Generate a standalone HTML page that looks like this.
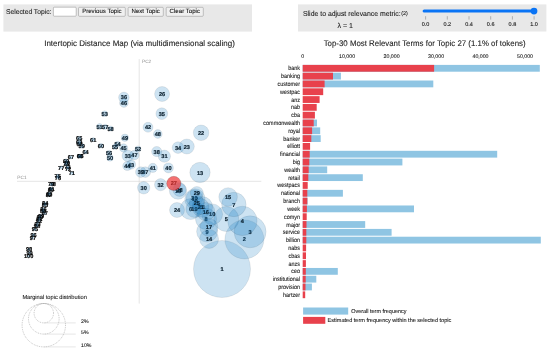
<!DOCTYPE html>
<html><head><meta charset="utf-8"><title>LDAvis</title>
<style>html,body{margin:0;padding:0;background:#fff;overflow:hidden}svg{display:block}text{font-family:"Liberation Sans", sans-serif;text-rendering:geometricPrecision}text[fill="#222"],text[fill="#111"]{stroke:#222;stroke-width:.1px}</style></head><body>
<svg width="550" height="352" viewBox="0 0 550 352">
<rect width="550" height="352" fill="#fff"/>
<rect x="3.4" y="4.4" width="248.6" height="27.2" fill="#e8e8e8"/>
<rect x="298" y="4.4" width="248.4" height="27.1" fill="#e8e8e8"/>
<text x="6" y="13.9" font-size="7" fill="#222" textLength="45.4" lengthAdjust="spacingAndGlyphs">Selected Topic:</text>
<rect x="53.4" y="7.2" width="22.8" height="9" fill="#fff" stroke="#8a8a8a" stroke-width="0.5" rx="0.8"/>
<rect x="78.5" y="7.3" width="46.8" height="9" rx="1" fill="#f0f0f0" stroke="#8c8c8c" stroke-width="0.5"/>
<text x="101.9" y="13.4" font-size="6.1" fill="#111" text-anchor="middle">Previous Topic</text>
<rect x="128.1" y="7.3" width="35.2" height="9" rx="1" fill="#f0f0f0" stroke="#8c8c8c" stroke-width="0.5"/>
<text x="145.7" y="13.4" font-size="6.1" fill="#111" text-anchor="middle">Next Topic</text>
<rect x="166.2" y="7.3" width="37.1" height="9" rx="1" fill="#f0f0f0" stroke="#8c8c8c" stroke-width="0.5"/>
<text x="184.8" y="13.4" font-size="6.1" fill="#111" text-anchor="middle">Clear Topic</text>
<text x="303" y="16.4" font-size="7.1" fill="#222" textLength="97.6" lengthAdjust="spacingAndGlyphs">Slide to adjust relevance metric:</text>
<text x="401.2" y="14.8" font-size="5.3" fill="#222">(2)</text>
<text x="337.4" y="27.9" font-size="7.1" fill="#222">λ = 1</text>
<rect x="422.6" y="9.5" width="113" height="3.1" rx="1.55" fill="#0a74f5"/>
<circle cx="534" cy="11.1" r="3.4" fill="#0a74f5"/>
<line x1="425.6" y1="16.2" x2="425.6" y2="19.6" stroke="#777" stroke-width="0.5"/>
<text x="425.6" y="25.7" font-size="5.5" fill="#111" text-anchor="middle">0.0</text>
<line x1="447.3" y1="16.2" x2="447.3" y2="19.6" stroke="#777" stroke-width="0.5"/>
<text x="447.3" y="25.7" font-size="5.5" fill="#111" text-anchor="middle">0.2</text>
<line x1="469.0" y1="16.2" x2="469.0" y2="19.6" stroke="#777" stroke-width="0.5"/>
<text x="469.0" y="25.7" font-size="5.5" fill="#111" text-anchor="middle">0.4</text>
<line x1="490.7" y1="16.2" x2="490.7" y2="19.6" stroke="#777" stroke-width="0.5"/>
<text x="490.7" y="25.7" font-size="5.5" fill="#111" text-anchor="middle">0.6</text>
<line x1="512.4" y1="16.2" x2="512.4" y2="19.6" stroke="#777" stroke-width="0.5"/>
<text x="512.4" y="25.7" font-size="5.5" fill="#111" text-anchor="middle">0.8</text>
<line x1="534.1" y1="16.2" x2="534.1" y2="19.6" stroke="#777" stroke-width="0.5"/>
<text x="534.1" y="25.7" font-size="5.5" fill="#111" text-anchor="middle">1.0</text>
<text x="44.2" y="45.6" font-size="8.1" fill="#222" textLength="190.7" lengthAdjust="spacingAndGlyphs">Intertopic Distance Map (via multidimensional scaling)</text>
<text x="323.7" y="45.6" font-size="8.1" fill="#222" textLength="201.9" lengthAdjust="spacingAndGlyphs">Top-30 Most Relevant Terms for Topic 27 (1.1% of tokens)</text>
<line x1="17" y1="181.3" x2="261.3" y2="181.3" stroke="#d4d4d4" stroke-width="0.6"/>
<line x1="139.2" y1="59.1" x2="139.2" y2="303.6" stroke="#d4d4d4" stroke-width="0.6"/>
<text x="17.3" y="179.1" font-size="4.75" fill="#8e8e8e">PC1</text>
<text x="142" y="62.7" font-size="4.75" fill="#8e8e8e">PC2</text>
<g font-size="5.6" font-weight="bold" text-anchor="middle" stroke-width="0.45">
<text x="222.0" y="271.0" fill="#000" stroke="#000" stroke-width="0.2" stroke-opacity="0.9">1</text>
<circle cx="222.0" cy="269.0" r="28.5" fill="#1b7fc4" fill-opacity="0.22" stroke="#000" stroke-opacity="0.16"/>
<text x="244.4" y="241.4" fill="#000" stroke="#000" stroke-width="0.2" stroke-opacity="0.9">2</text>
<circle cx="244.4" cy="239.4" r="19.5" fill="#1b7fc4" fill-opacity="0.22" stroke="#000" stroke-opacity="0.16"/>
<text x="250.1" y="233.8" fill="#000" stroke="#000" stroke-width="0.2" stroke-opacity="0.9">3</text>
<circle cx="250.1" cy="231.8" r="16.0" fill="#1b7fc4" fill-opacity="0.22" stroke="#000" stroke-opacity="0.16"/>
<text x="242.4" y="222.9" fill="#000" stroke="#000" stroke-width="0.2" stroke-opacity="0.9">4</text>
<circle cx="242.4" cy="220.9" r="14.7" fill="#1b7fc4" fill-opacity="0.22" stroke="#000" stroke-opacity="0.16"/>
<text x="226.3" y="221.0" fill="#000" stroke="#000" stroke-width="0.2" stroke-opacity="0.9">5</text>
<circle cx="226.3" cy="219.0" r="12.5" fill="#1b7fc4" fill-opacity="0.22" stroke="#000" stroke-opacity="0.16"/>
<text x="190.5" y="211.1" fill="#000" stroke="#000" stroke-width="0.2" stroke-opacity="0.9">6</text>
<circle cx="190.5" cy="209.1" r="10.5" fill="#1b7fc4" fill-opacity="0.22" stroke="#000" stroke-opacity="0.16"/>
<text x="233.9" y="206.5" fill="#000" stroke="#000" stroke-width="0.2" stroke-opacity="0.9">7</text>
<circle cx="233.9" cy="204.5" r="12.2" fill="#1b7fc4" fill-opacity="0.22" stroke="#000" stroke-opacity="0.16"/>
<text x="206.1" y="220.9" fill="#000" stroke="#000" stroke-width="0.2" stroke-opacity="0.9">8</text>
<circle cx="206.1" cy="218.9" r="10.6" fill="#1b7fc4" fill-opacity="0.22" stroke="#000" stroke-opacity="0.16"/>
<text x="207.1" y="233.6" fill="#000" stroke="#000" stroke-width="0.2" stroke-opacity="0.9">9</text>
<circle cx="207.1" cy="231.6" r="10.5" fill="#1b7fc4" fill-opacity="0.22" stroke="#000" stroke-opacity="0.16"/>
<text x="212.2" y="216.3" fill="#000" stroke="#000" stroke-width="0.2" stroke-opacity="0.9">10</text>
<circle cx="212.2" cy="214.3" r="10.4" fill="#1b7fc4" fill-opacity="0.22" stroke="#000" stroke-opacity="0.16"/>
<text x="202.3" y="208.9" fill="#000" stroke="#000" stroke-width="0.2" stroke-opacity="0.9">11</text>
<circle cx="202.3" cy="206.9" r="10.3" fill="#1b7fc4" fill-opacity="0.22" stroke="#000" stroke-opacity="0.16"/>
<text x="194.9" y="200.9" fill="#000" stroke="#000" stroke-width="0.2" stroke-opacity="0.9">12</text>
<circle cx="194.9" cy="198.9" r="10.2" fill="#1b7fc4" fill-opacity="0.22" stroke="#000" stroke-opacity="0.16"/>
<text x="200.0" y="174.5" fill="#000" stroke="#000" stroke-width="0.2" stroke-opacity="0.9">13</text>
<circle cx="200.0" cy="172.5" r="10.2" fill="#1b7fc4" fill-opacity="0.22" stroke="#000" stroke-opacity="0.16"/>
<text x="209.1" y="240.9" fill="#000" stroke="#000" stroke-width="0.2" stroke-opacity="0.9">14</text>
<circle cx="209.1" cy="238.9" r="9.5" fill="#1b7fc4" fill-opacity="0.22" stroke="#000" stroke-opacity="0.16"/>
<text x="228.1" y="199.0" fill="#000" stroke="#000" stroke-width="0.2" stroke-opacity="0.9">15</text>
<circle cx="228.1" cy="197.0" r="9.3" fill="#1b7fc4" fill-opacity="0.22" stroke="#000" stroke-opacity="0.16"/>
<text x="205.8" y="213.6" fill="#000" stroke="#000" stroke-width="0.2" stroke-opacity="0.9">16</text>
<circle cx="205.8" cy="211.6" r="9.1" fill="#1b7fc4" fill-opacity="0.22" stroke="#000" stroke-opacity="0.16"/>
<text x="208.9" y="229.4" fill="#000" stroke="#000" stroke-width="0.2" stroke-opacity="0.9">17</text>
<circle cx="208.9" cy="227.4" r="9.0" fill="#1b7fc4" fill-opacity="0.22" stroke="#000" stroke-opacity="0.16"/>
<text x="178.0" y="192.6" fill="#000" stroke="#000" stroke-width="0.2" stroke-opacity="0.9">18</text>
<circle cx="178.0" cy="190.6" r="8.7" fill="#1b7fc4" fill-opacity="0.22" stroke="#000" stroke-opacity="0.16"/>
<text x="194.4" y="211.0" fill="#000" stroke="#000" stroke-width="0.2" stroke-opacity="0.9">19</text>
<circle cx="194.4" cy="209.0" r="8.5" fill="#1b7fc4" fill-opacity="0.22" stroke="#000" stroke-opacity="0.16"/>
<text x="194.4" y="200.2" fill="#000" stroke="#000" stroke-width="0.2" stroke-opacity="0.9">20</text>
<circle cx="194.4" cy="198.2" r="8.3" fill="#1b7fc4" fill-opacity="0.22" stroke="#000" stroke-opacity="0.16"/>
<text x="200.8" y="208.5" fill="#000" stroke="#000" stroke-width="0.2" stroke-opacity="0.9">21</text>
<circle cx="200.8" cy="206.5" r="8.0" fill="#1b7fc4" fill-opacity="0.22" stroke="#000" stroke-opacity="0.16"/>
<text x="201.1" y="134.8" fill="#000" stroke="#000" stroke-width="0.2" stroke-opacity="0.9">22</text>
<circle cx="201.1" cy="132.8" r="7.8" fill="#1b7fc4" fill-opacity="0.22" stroke="#000" stroke-opacity="0.16"/>
<text x="186.8" y="148.5" fill="#000" stroke="#000" stroke-width="0.2" stroke-opacity="0.9">23</text>
<circle cx="186.8" cy="146.5" r="7.5" fill="#1b7fc4" fill-opacity="0.22" stroke="#000" stroke-opacity="0.16"/>
<text x="177.0" y="212.0" fill="#000" stroke="#000" stroke-width="0.2" stroke-opacity="0.9">24</text>
<circle cx="177.0" cy="210.0" r="7.5" fill="#1b7fc4" fill-opacity="0.22" stroke="#000" stroke-opacity="0.16"/>
<text x="196.8" y="205.0" fill="#000" stroke="#000" stroke-width="0.2" stroke-opacity="0.9">25</text>
<circle cx="196.8" cy="203.0" r="7.5" fill="#1b7fc4" fill-opacity="0.22" stroke="#000" stroke-opacity="0.16"/>
<text x="162.1" y="96.0" fill="#000" stroke="#000" stroke-width="0.2" stroke-opacity="0.9">26</text>
<circle cx="162.1" cy="94.0" r="7.5" fill="#1b7fc4" fill-opacity="0.22" stroke="#000" stroke-opacity="0.16"/>
<text x="179.5" y="191.8" fill="#000" stroke="#000" stroke-width="0.2" stroke-opacity="0.9">28</text>
<circle cx="179.5" cy="189.8" r="6.6" fill="#1b7fc4" fill-opacity="0.22" stroke="#000" stroke-opacity="0.16"/>
<text x="196.8" y="195.0" fill="#000" stroke="#000" stroke-width="0.2" stroke-opacity="0.9">29</text>
<circle cx="196.8" cy="193.0" r="6.5" fill="#1b7fc4" fill-opacity="0.22" stroke="#000" stroke-opacity="0.16"/>
<text x="143.7" y="189.8" fill="#000" stroke="#000" stroke-width="0.2" stroke-opacity="0.9">30</text>
<circle cx="143.7" cy="187.8" r="6.2" fill="#1b7fc4" fill-opacity="0.22" stroke="#000" stroke-opacity="0.16"/>
<text x="164.4" y="158.2" fill="#000" stroke="#000" stroke-width="0.2" stroke-opacity="0.9">31</text>
<circle cx="164.4" cy="156.2" r="6.1" fill="#1b7fc4" fill-opacity="0.22" stroke="#000" stroke-opacity="0.16"/>
<text x="160.6" y="186.7" fill="#000" stroke="#000" stroke-width="0.2" stroke-opacity="0.9">32</text>
<circle cx="160.6" cy="184.7" r="6.1" fill="#1b7fc4" fill-opacity="0.22" stroke="#000" stroke-opacity="0.16"/>
<text x="127.8" y="157.8" fill="#000" stroke="#000" stroke-width="0.2" stroke-opacity="0.9">33</text>
<circle cx="127.8" cy="155.8" r="5.8" fill="#1b7fc4" fill-opacity="0.22" stroke="#000" stroke-opacity="0.16"/>
<text x="178.0" y="149.6" fill="#000" stroke="#000" stroke-width="0.2" stroke-opacity="0.9">34</text>
<circle cx="178.0" cy="147.6" r="5.8" fill="#1b7fc4" fill-opacity="0.22" stroke="#000" stroke-opacity="0.16"/>
<text x="161.8" y="115.7" fill="#000" stroke="#000" stroke-width="0.2" stroke-opacity="0.9">35</text>
<circle cx="161.8" cy="113.7" r="5.9" fill="#1b7fc4" fill-opacity="0.22" stroke="#000" stroke-opacity="0.16"/>
<text x="123.9" y="99.4" fill="#000" stroke="#000" stroke-width="0.2" stroke-opacity="0.9">36</text>
<circle cx="123.9" cy="97.4" r="5.3" fill="#1b7fc4" fill-opacity="0.22" stroke="#000" stroke-opacity="0.16"/>
<text x="145.3" y="174.1" fill="#000" stroke="#000" stroke-width="0.2" stroke-opacity="0.9">37</text>
<circle cx="145.3" cy="172.1" r="5.3" fill="#1b7fc4" fill-opacity="0.22" stroke="#000" stroke-opacity="0.16"/>
<text x="156.7" y="153.6" fill="#000" stroke="#000" stroke-width="0.2" stroke-opacity="0.9">38</text>
<circle cx="156.7" cy="151.6" r="5.1" fill="#1b7fc4" fill-opacity="0.22" stroke="#000" stroke-opacity="0.16"/>
<text x="140.8" y="174.1" fill="#000" stroke="#000" stroke-width="0.2" stroke-opacity="0.9">39</text>
<circle cx="140.8" cy="172.1" r="5.3" fill="#1b7fc4" fill-opacity="0.22" stroke="#000" stroke-opacity="0.16"/>
<text x="168.4" y="169.9" fill="#000" stroke="#000" stroke-width="0.2" stroke-opacity="0.9">40</text>
<circle cx="168.4" cy="167.9" r="5.0" fill="#1b7fc4" fill-opacity="0.22" stroke="#000" stroke-opacity="0.16"/>
<text x="152.8" y="169.9" fill="#000" stroke="#000" stroke-width="0.2" stroke-opacity="0.9">41</text>
<circle cx="152.8" cy="167.9" r="4.6" fill="#1b7fc4" fill-opacity="0.22" stroke="#000" stroke-opacity="0.16"/>
<text x="148.0" y="129.3" fill="#000" stroke="#000" stroke-width="0.2" stroke-opacity="0.9">42</text>
<circle cx="148.0" cy="127.3" r="5.0" fill="#1b7fc4" fill-opacity="0.22" stroke="#000" stroke-opacity="0.16"/>
<text x="131.1" y="166.6" fill="#000" stroke="#000" stroke-width="0.2" stroke-opacity="0.9">43</text>
<circle cx="131.1" cy="164.6" r="4.6" fill="#1b7fc4" fill-opacity="0.22" stroke="#000" stroke-opacity="0.16"/>
<text x="127.3" y="168.0" fill="#000" stroke="#000" stroke-width="0.2" stroke-opacity="0.9">44</text>
<circle cx="127.3" cy="166.0" r="4.6" fill="#1b7fc4" fill-opacity="0.22" stroke="#000" stroke-opacity="0.16"/>
<text x="123.6" y="150.0" fill="#000" stroke="#000" stroke-width="0.2" stroke-opacity="0.9">45</text>
<circle cx="123.6" cy="148.0" r="4.2" fill="#1b7fc4" fill-opacity="0.22" stroke="#000" stroke-opacity="0.16"/>
<text x="123.9" y="105.0" fill="#000" stroke="#000" stroke-width="0.2" stroke-opacity="0.9">46</text>
<circle cx="123.9" cy="103.0" r="4.4" fill="#1b7fc4" fill-opacity="0.22" stroke="#000" stroke-opacity="0.16"/>
<text x="134.4" y="157.1" fill="#000" stroke="#000" stroke-width="0.2" stroke-opacity="0.9">47</text>
<circle cx="134.4" cy="155.1" r="4.8" fill="#1b7fc4" fill-opacity="0.22" stroke="#000" stroke-opacity="0.16"/>
<text x="157.8" y="136.0" fill="#000" stroke="#000" stroke-width="0.2" stroke-opacity="0.9">48</text>
<circle cx="157.8" cy="134.0" r="4.4" fill="#1b7fc4" fill-opacity="0.22" stroke="#000" stroke-opacity="0.16"/>
<text x="124.9" y="139.7" fill="#000" stroke="#000" stroke-width="0.2" stroke-opacity="0.9">49</text>
<circle cx="124.9" cy="137.7" r="3.7" fill="#1b7fc4" fill-opacity="0.22" stroke="#000" stroke-opacity="0.16"/>
<text x="110.0" y="159.9" fill="#000" stroke="#000" stroke-width="0.2" stroke-opacity="0.9">50</text>
<circle cx="110.0" cy="157.9" r="3.3" fill="#1b7fc4" fill-opacity="0.22" stroke="#000" stroke-opacity="0.16"/>
<text x="99.6" y="128.5" fill="#000" stroke="#000" stroke-width="0.2" stroke-opacity="0.9">51</text>
<circle cx="99.6" cy="126.5" r="3.0" fill="#1b7fc4" fill-opacity="0.22" stroke="#000" stroke-opacity="0.16"/>
<text x="138.0" y="151.0" fill="#000" stroke="#000" stroke-width="0.2" stroke-opacity="0.9">52</text>
<circle cx="138.0" cy="149.0" r="3.1" fill="#1b7fc4" fill-opacity="0.22" stroke="#000" stroke-opacity="0.16"/>
<text x="104.7" y="115.7" fill="#000" stroke="#000" stroke-width="0.2" stroke-opacity="0.9">53</text>
<circle cx="104.7" cy="113.7" r="2.9" fill="#1b7fc4" fill-opacity="0.22" stroke="#000" stroke-opacity="0.16"/>
<text x="117.5" y="146.1" fill="#000" stroke="#000" stroke-width="0.2" stroke-opacity="0.9">54</text>
<circle cx="117.5" cy="144.1" r="2.8" fill="#1b7fc4" fill-opacity="0.22" stroke="#000" stroke-opacity="0.16"/>
<text x="115.1" y="148.6" fill="#000" stroke="#000" stroke-width="0.2" stroke-opacity="0.9">55</text>
<circle cx="115.1" cy="146.6" r="2.7" fill="#1b7fc4" fill-opacity="0.22" stroke="#000" stroke-opacity="0.16"/>
<text x="109.0" y="154.9" fill="#000" stroke="#000" stroke-width="0.2" stroke-opacity="0.9">56</text>
<circle cx="109.0" cy="152.9" r="2.7" fill="#1b7fc4" fill-opacity="0.22" stroke="#000" stroke-opacity="0.16"/>
<text x="105.2" y="128.8" fill="#000" stroke="#000" stroke-width="0.2" stroke-opacity="0.9">57</text>
<circle cx="105.2" cy="126.8" r="2.6" fill="#1b7fc4" fill-opacity="0.22" stroke="#000" stroke-opacity="0.16"/>
<text x="110.6" y="130.5" fill="#000" stroke="#000" stroke-width="0.2" stroke-opacity="0.9">58</text>
<circle cx="110.6" cy="128.5" r="2.6" fill="#1b7fc4" fill-opacity="0.22" stroke="#000" stroke-opacity="0.16"/>
<text x="81.7" y="147.9" fill="#000" stroke="#000" stroke-width="0.2" stroke-opacity="0.9">59</text>
<circle cx="81.7" cy="145.9" r="2.4" fill="#1b7fc4" fill-opacity="0.22" stroke="#000" stroke-opacity="0.16"/>
<text x="100.9" y="147.7" fill="#000" stroke="#000" stroke-width="0.2" stroke-opacity="0.9">60</text>
<circle cx="100.9" cy="145.7" r="2.4" fill="#1b7fc4" fill-opacity="0.22" stroke="#000" stroke-opacity="0.16"/>
<text x="93.2" y="141.5" fill="#000" stroke="#000" stroke-width="0.2" stroke-opacity="0.9">61</text>
<circle cx="93.2" cy="139.5" r="2.0" fill="#1b7fc4" fill-opacity="0.22" stroke="#000" stroke-opacity="0.16"/>
<text x="79.5" y="145.5" fill="#000" stroke="#000" stroke-width="0.2" stroke-opacity="0.9">62</text>
<circle cx="79.5" cy="143.5" r="2.0" fill="#1b7fc4" fill-opacity="0.22" stroke="#000" stroke-opacity="0.16"/>
<text x="79.2" y="144.0" fill="#000" stroke="#000" stroke-width="0.2" stroke-opacity="0.9">63</text>
<circle cx="79.2" cy="142.0" r="2.0" fill="#1b7fc4" fill-opacity="0.22" stroke="#000" stroke-opacity="0.16"/>
<text x="85.5" y="154.1" fill="#000" stroke="#000" stroke-width="0.2" stroke-opacity="0.9">64</text>
<circle cx="85.5" cy="152.1" r="2.0" fill="#1b7fc4" fill-opacity="0.22" stroke="#000" stroke-opacity="0.16"/>
<text x="79.2" y="140.3" fill="#000" stroke="#000" stroke-width="0.2" stroke-opacity="0.9">65</text>
<circle cx="79.2" cy="138.3" r="2.0" fill="#1b7fc4" fill-opacity="0.22" stroke="#000" stroke-opacity="0.16"/>
<text x="80.4" y="158.3" fill="#000" stroke="#000" stroke-width="0.2" stroke-opacity="0.9">66</text>
<circle cx="80.4" cy="156.3" r="2.0" fill="#1b7fc4" fill-opacity="0.22" stroke="#000" stroke-opacity="0.16"/>
<text x="70.9" y="159.3" fill="#000" stroke="#000" stroke-width="0.2" stroke-opacity="0.9">67</text>
<circle cx="70.9" cy="157.3" r="1.8" fill="#1b7fc4" fill-opacity="0.22" stroke="#000" stroke-opacity="0.16"/>
<text x="79.8" y="158.3" fill="#000" stroke="#000" stroke-width="0.2" stroke-opacity="0.9">68</text>
<circle cx="79.8" cy="156.3" r="2.0" fill="#1b7fc4" fill-opacity="0.22" stroke="#000" stroke-opacity="0.16"/>
<text x="66.0" y="162.5" fill="#000" stroke="#000" stroke-width="0.2" stroke-opacity="0.9">69</text>
<circle cx="66.0" cy="160.5" r="1.8" fill="#1b7fc4" fill-opacity="0.22" stroke="#000" stroke-opacity="0.16"/>
<text x="67.0" y="164.5" fill="#000" stroke="#000" stroke-width="0.2" stroke-opacity="0.9">70</text>
<circle cx="67.0" cy="162.5" r="1.8" fill="#1b7fc4" fill-opacity="0.22" stroke="#000" stroke-opacity="0.16"/>
<text x="71.8" y="175.3" fill="#000" stroke="#000" stroke-width="0.2" stroke-opacity="0.9">71</text>
<circle cx="71.8" cy="173.3" r="1.8" fill="#1b7fc4" fill-opacity="0.22" stroke="#000" stroke-opacity="0.16"/>
<text x="68.0" y="170.5" fill="#000" stroke="#000" stroke-width="0.2" stroke-opacity="0.9">72</text>
<circle cx="68.0" cy="168.5" r="1.8" fill="#1b7fc4" fill-opacity="0.22" stroke="#000" stroke-opacity="0.16"/>
<text x="67.5" y="168.7" fill="#000" stroke="#000" stroke-width="0.2" stroke-opacity="0.9">73</text>
<circle cx="67.5" cy="166.7" r="1.8" fill="#1b7fc4" fill-opacity="0.22" stroke="#000" stroke-opacity="0.16"/>
<text x="66.0" y="166.0" fill="#000" stroke="#000" stroke-width="0.2" stroke-opacity="0.9">74</text>
<circle cx="66.0" cy="164.0" r="1.8" fill="#1b7fc4" fill-opacity="0.22" stroke="#000" stroke-opacity="0.16"/>
<text x="57.7" y="177.9" fill="#000" stroke="#000" stroke-width="0.2" stroke-opacity="0.9">75</text>
<circle cx="57.7" cy="175.9" r="1.8" fill="#1b7fc4" fill-opacity="0.22" stroke="#000" stroke-opacity="0.16"/>
<text x="57.9" y="179.5" fill="#000" stroke="#000" stroke-width="0.2" stroke-opacity="0.9">76</text>
<circle cx="57.9" cy="177.5" r="1.8" fill="#1b7fc4" fill-opacity="0.22" stroke="#000" stroke-opacity="0.16"/>
<text x="61.2" y="169.5" fill="#000" stroke="#000" stroke-width="0.2" stroke-opacity="0.9">77</text>
<circle cx="61.2" cy="167.5" r="1.8" fill="#1b7fc4" fill-opacity="0.22" stroke="#000" stroke-opacity="0.16"/>
<text x="52.8" y="186.2" fill="#000" stroke="#000" stroke-width="0.2" stroke-opacity="0.9">78</text>
<circle cx="52.8" cy="184.2" r="1.6" fill="#1b7fc4" fill-opacity="0.22" stroke="#000" stroke-opacity="0.16"/>
<text x="51.2" y="186.4" fill="#000" stroke="#000" stroke-width="0.2" stroke-opacity="0.9">79</text>
<circle cx="51.2" cy="184.4" r="1.6" fill="#1b7fc4" fill-opacity="0.22" stroke="#000" stroke-opacity="0.16"/>
<text x="50.8" y="192.0" fill="#000" stroke="#000" stroke-width="0.2" stroke-opacity="0.9">80</text>
<circle cx="50.8" cy="190.0" r="1.6" fill="#1b7fc4" fill-opacity="0.22" stroke="#000" stroke-opacity="0.16"/>
<text x="51.5" y="190.5" fill="#000" stroke="#000" stroke-width="0.2" stroke-opacity="0.9">81</text>
<circle cx="51.5" cy="188.5" r="1.6" fill="#1b7fc4" fill-opacity="0.22" stroke="#000" stroke-opacity="0.16"/>
<text x="48.8" y="196.9" fill="#000" stroke="#000" stroke-width="0.2" stroke-opacity="0.9">82</text>
<circle cx="48.8" cy="194.9" r="1.6" fill="#1b7fc4" fill-opacity="0.22" stroke="#000" stroke-opacity="0.16"/>
<text x="49.3" y="195.5" fill="#000" stroke="#000" stroke-width="0.2" stroke-opacity="0.9">83</text>
<circle cx="49.3" cy="193.5" r="1.6" fill="#1b7fc4" fill-opacity="0.22" stroke="#000" stroke-opacity="0.16"/>
<text x="45.2" y="205.3" fill="#000" stroke="#000" stroke-width="0.2" stroke-opacity="0.9">84</text>
<circle cx="45.2" cy="203.3" r="1.5" fill="#1b7fc4" fill-opacity="0.22" stroke="#000" stroke-opacity="0.16"/>
<text x="44.9" y="206.9" fill="#000" stroke="#000" stroke-width="0.2" stroke-opacity="0.9">85</text>
<circle cx="44.9" cy="204.9" r="1.5" fill="#1b7fc4" fill-opacity="0.22" stroke="#000" stroke-opacity="0.16"/>
<text x="43.4" y="210.9" fill="#000" stroke="#000" stroke-width="0.2" stroke-opacity="0.9">86</text>
<circle cx="43.4" cy="208.9" r="1.5" fill="#1b7fc4" fill-opacity="0.22" stroke="#000" stroke-opacity="0.16"/>
<text x="44.8" y="215.3" fill="#000" stroke="#000" stroke-width="0.2" stroke-opacity="0.9">87</text>
<circle cx="44.8" cy="213.3" r="1.5" fill="#1b7fc4" fill-opacity="0.22" stroke="#000" stroke-opacity="0.16"/>
<text x="43.0" y="213.0" fill="#000" stroke="#000" stroke-width="0.2" stroke-opacity="0.9">88</text>
<circle cx="43.0" cy="211.0" r="1.5" fill="#1b7fc4" fill-opacity="0.22" stroke="#000" stroke-opacity="0.16"/>
<text x="41.0" y="217.5" fill="#000" stroke="#000" stroke-width="0.2" stroke-opacity="0.9">89</text>
<circle cx="41.0" cy="215.5" r="1.5" fill="#1b7fc4" fill-opacity="0.22" stroke="#000" stroke-opacity="0.16"/>
<text x="39.9" y="218.9" fill="#000" stroke="#000" stroke-width="0.2" stroke-opacity="0.9">90</text>
<circle cx="39.9" cy="216.9" r="1.5" fill="#1b7fc4" fill-opacity="0.22" stroke="#000" stroke-opacity="0.16"/>
<text x="39.3" y="221.0" fill="#000" stroke="#000" stroke-width="0.2" stroke-opacity="0.9">91</text>
<circle cx="39.3" cy="219.0" r="1.5" fill="#1b7fc4" fill-opacity="0.22" stroke="#000" stroke-opacity="0.16"/>
<text x="38.9" y="222.8" fill="#000" stroke="#000" stroke-width="0.2" stroke-opacity="0.9">92</text>
<circle cx="38.9" cy="220.8" r="1.5" fill="#1b7fc4" fill-opacity="0.22" stroke="#000" stroke-opacity="0.16"/>
<text x="37.5" y="225.5" fill="#000" stroke="#000" stroke-width="0.2" stroke-opacity="0.9">93</text>
<circle cx="37.5" cy="223.5" r="1.5" fill="#1b7fc4" fill-opacity="0.22" stroke="#000" stroke-opacity="0.16"/>
<text x="36.9" y="227.8" fill="#000" stroke="#000" stroke-width="0.2" stroke-opacity="0.9">94</text>
<circle cx="36.9" cy="225.8" r="1.5" fill="#1b7fc4" fill-opacity="0.22" stroke="#000" stroke-opacity="0.16"/>
<text x="34.9" y="231.2" fill="#000" stroke="#000" stroke-width="0.2" stroke-opacity="0.9">95</text>
<circle cx="34.9" cy="229.2" r="1.5" fill="#1b7fc4" fill-opacity="0.22" stroke="#000" stroke-opacity="0.16"/>
<text x="33.5" y="236.8" fill="#000" stroke="#000" stroke-width="0.2" stroke-opacity="0.9">96</text>
<circle cx="33.5" cy="234.8" r="1.5" fill="#1b7fc4" fill-opacity="0.22" stroke="#000" stroke-opacity="0.16"/>
<text x="32.9" y="239.7" fill="#000" stroke="#000" stroke-width="0.2" stroke-opacity="0.9">97</text>
<circle cx="32.9" cy="237.7" r="1.3" fill="#1b7fc4" fill-opacity="0.22" stroke="#000" stroke-opacity="0.16"/>
<text x="29.0" y="251.2" fill="#000" stroke="#000" stroke-width="0.2" stroke-opacity="0.9">98</text>
<circle cx="29.0" cy="249.2" r="1.3" fill="#1b7fc4" fill-opacity="0.22" stroke="#000" stroke-opacity="0.16"/>
<text x="29.6" y="254.7" fill="#000" stroke="#000" stroke-width="0.2" stroke-opacity="0.9">99</text>
<circle cx="29.6" cy="252.7" r="1.3" fill="#1b7fc4" fill-opacity="0.22" stroke="#000" stroke-opacity="0.16"/>
<text x="28.6" y="258.2" fill="#000" stroke="#000" stroke-width="0.2" stroke-opacity="0.9">100</text>
<circle cx="28.6" cy="256.2" r="1.3" fill="#1b7fc4" fill-opacity="0.22" stroke="#000" stroke-opacity="0.16"/>
<text x="173.8" y="185.4" fill="#000" stroke="#000" stroke-width="0.2" stroke-opacity="0.9">27</text>
<circle cx="173.8" cy="183.4" r="7.1" fill="#f03535" fill-opacity="0.7" stroke="#000" stroke-opacity="0.35"/>
</g>
<text x="22.4" y="299.2" font-size="5.8" fill="#222" textLength="64.4" lengthAdjust="spacingAndGlyphs">Marginal topic distribution</text>
<circle cx="43.8" cy="313.2" r="9.7" fill="none" stroke="#888" stroke-width="0.5" stroke-dasharray="0.9,0.9"/>
<line x1="43.8" y1="322.9" x2="75.7" y2="322.9" stroke="#ccc" stroke-width="0.5"/>
<text x="81" y="323.0" font-size="5.2" fill="#222">2%</text>
<circle cx="43.8" cy="318.8" r="15.3" fill="none" stroke="#888" stroke-width="0.5" stroke-dasharray="0.9,0.9"/>
<line x1="43.8" y1="334.1" x2="75.7" y2="334.1" stroke="#ccc" stroke-width="0.5"/>
<text x="81" y="334.2" font-size="5.2" fill="#222">5%</text>
<circle cx="43.8" cy="325.2" r="21.7" fill="none" stroke="#888" stroke-width="0.5" stroke-dasharray="0.9,0.9"/>
<line x1="43.8" y1="346.9" x2="75.7" y2="346.9" stroke="#ccc" stroke-width="0.5"/>
<text x="81" y="347.0" font-size="5.2" fill="#222">10%</text>
<text x="302.7" y="57.9" font-size="5.25" fill="#222" text-anchor="middle">0</text>
<text x="347.1" y="57.9" font-size="5.25" fill="#222" text-anchor="middle">10,000</text>
<text x="391.6" y="57.9" font-size="5.25" fill="#222" text-anchor="middle">20,000</text>
<text x="436.1" y="57.9" font-size="5.25" fill="#222" text-anchor="middle">30,000</text>
<text x="480.5" y="57.9" font-size="5.25" fill="#222" text-anchor="middle">40,000</text>
<text x="525.0" y="57.9" font-size="5.25" fill="#222" text-anchor="middle">50,000</text>
<rect x="302.7" y="64.90" width="237.1" height="6.8" fill="#8fc5e3"/>
<rect x="302.7" y="64.90" width="131.4" height="6.8" fill="#e8414c"/>
<text x="288.18" y="70.30" font-size="6.2" fill="#222" textLength="11.82" lengthAdjust="spacingAndGlyphs">bank</text>
<rect x="302.7" y="72.71" width="38.2" height="6.8" fill="#8fc5e3"/>
<rect x="302.7" y="72.71" width="30.3" height="6.8" fill="#e8414c"/>
<text x="280.91" y="78.11" font-size="6.2" fill="#222" textLength="19.09" lengthAdjust="spacingAndGlyphs">banking</text>
<rect x="302.7" y="80.52" width="130.6" height="6.8" fill="#8fc5e3"/>
<rect x="302.7" y="80.52" width="21.9" height="6.8" fill="#e8414c"/>
<text x="277.59" y="85.92" font-size="6.2" fill="#222" textLength="22.41" lengthAdjust="spacingAndGlyphs">customer</text>
<rect x="302.7" y="88.33" width="20.5" height="6.8" fill="#e8414c"/>
<text x="280.01" y="93.73" font-size="6.2" fill="#222" textLength="19.99" lengthAdjust="spacingAndGlyphs">westpac</text>
<rect x="302.7" y="96.14" width="16.9" height="6.8" fill="#e8414c"/>
<text x="291.21" y="101.54" font-size="6.2" fill="#222" textLength="8.79" lengthAdjust="spacingAndGlyphs">anz</text>
<rect x="302.7" y="103.95" width="14.0" height="6.8" fill="#e8414c"/>
<text x="290.91" y="109.35" font-size="6.2" fill="#222" textLength="9.09" lengthAdjust="spacingAndGlyphs">nab</text>
<rect x="302.7" y="111.76" width="12.2" height="6.8" fill="#e8414c"/>
<text x="291.21" y="117.16" font-size="6.2" fill="#222" textLength="8.79" lengthAdjust="spacingAndGlyphs">cba</text>
<rect x="302.7" y="119.57" width="14.3" height="6.8" fill="#8fc5e3"/>
<rect x="302.7" y="119.57" width="11.0" height="6.8" fill="#e8414c"/>
<text x="263.35" y="124.97" font-size="6.2" fill="#222" textLength="36.65" lengthAdjust="spacingAndGlyphs">commonwealth</text>
<rect x="302.7" y="127.38" width="17.5" height="6.8" fill="#8fc5e3"/>
<rect x="302.7" y="127.38" width="9.4" height="6.8" fill="#e8414c"/>
<text x="288.19" y="132.78" font-size="6.2" fill="#222" textLength="11.81" lengthAdjust="spacingAndGlyphs">royal</text>
<rect x="302.7" y="135.19" width="18.0" height="6.8" fill="#8fc5e3"/>
<rect x="302.7" y="135.19" width="8.6" height="6.8" fill="#e8414c"/>
<text x="283.34" y="140.59" font-size="6.2" fill="#222" textLength="16.66" lengthAdjust="spacingAndGlyphs">banker</text>
<rect x="302.7" y="143.00" width="7.4" height="6.8" fill="#e8414c"/>
<text x="287.28" y="148.40" font-size="6.2" fill="#222" textLength="12.72" lengthAdjust="spacingAndGlyphs">elliott</text>
<rect x="302.7" y="150.81" width="194.5" height="6.8" fill="#8fc5e3"/>
<rect x="302.7" y="150.81" width="7.0" height="6.8" fill="#e8414c"/>
<text x="280.01" y="156.21" font-size="6.2" fill="#222" textLength="19.99" lengthAdjust="spacingAndGlyphs">financial</text>
<rect x="302.7" y="158.62" width="99.7" height="6.8" fill="#8fc5e3"/>
<rect x="302.7" y="158.62" width="6.6" height="6.8" fill="#e8414c"/>
<text x="292.73" y="164.02" font-size="6.2" fill="#222" textLength="7.27" lengthAdjust="spacingAndGlyphs">big</text>
<rect x="302.7" y="166.43" width="24.5" height="6.8" fill="#8fc5e3"/>
<rect x="302.7" y="166.43" width="6.0" height="6.8" fill="#e8414c"/>
<text x="284.25" y="171.83" font-size="6.2" fill="#222" textLength="15.75" lengthAdjust="spacingAndGlyphs">wealth</text>
<rect x="302.7" y="174.24" width="60.1" height="6.8" fill="#8fc5e3"/>
<rect x="302.7" y="174.24" width="5.6" height="6.8" fill="#e8414c"/>
<text x="288.19" y="179.64" font-size="6.2" fill="#222" textLength="11.81" lengthAdjust="spacingAndGlyphs">retail</text>
<rect x="302.7" y="182.05" width="5.0" height="6.8" fill="#e8414c"/>
<text x="277.28" y="187.45" font-size="6.2" fill="#222" textLength="22.72" lengthAdjust="spacingAndGlyphs">westpacs</text>
<rect x="302.7" y="189.86" width="40.2" height="6.8" fill="#8fc5e3"/>
<rect x="302.7" y="189.86" width="4.6" height="6.8" fill="#e8414c"/>
<text x="280.91" y="195.26" font-size="6.2" fill="#222" textLength="19.09" lengthAdjust="spacingAndGlyphs">national</text>
<rect x="302.7" y="197.67" width="4.9" height="6.8" fill="#8fc5e3"/>
<rect x="302.7" y="197.67" width="4.6" height="6.8" fill="#e8414c"/>
<text x="283.34" y="203.07" font-size="6.2" fill="#222" textLength="16.66" lengthAdjust="spacingAndGlyphs">branch</text>
<rect x="302.7" y="205.48" width="111.3" height="6.8" fill="#8fc5e3"/>
<rect x="302.7" y="205.48" width="4.2" height="6.8" fill="#e8414c"/>
<text x="287.28" y="210.88" font-size="6.2" fill="#222" textLength="12.72" lengthAdjust="spacingAndGlyphs">week</text>
<rect x="302.7" y="213.29" width="4.0" height="6.8" fill="#e8414c"/>
<text x="283.95" y="218.69" font-size="6.2" fill="#222" textLength="16.05" lengthAdjust="spacingAndGlyphs">comyn</text>
<rect x="302.7" y="221.10" width="62.5" height="6.8" fill="#8fc5e3"/>
<rect x="302.7" y="221.10" width="3.8" height="6.8" fill="#e8414c"/>
<text x="286.37" y="226.50" font-size="6.2" fill="#222" textLength="13.63" lengthAdjust="spacingAndGlyphs">major</text>
<rect x="302.7" y="228.91" width="88.9" height="6.8" fill="#8fc5e3"/>
<rect x="302.7" y="228.91" width="3.6" height="6.8" fill="#e8414c"/>
<text x="282.74" y="234.31" font-size="6.2" fill="#222" textLength="17.26" lengthAdjust="spacingAndGlyphs">service</text>
<rect x="302.7" y="236.72" width="238.1" height="6.8" fill="#8fc5e3"/>
<rect x="302.7" y="236.72" width="3.6" height="6.8" fill="#e8414c"/>
<text x="286.06" y="242.12" font-size="6.2" fill="#222" textLength="13.94" lengthAdjust="spacingAndGlyphs">billion</text>
<rect x="302.7" y="244.53" width="3.4" height="6.8" fill="#e8414c"/>
<text x="288.18" y="249.93" font-size="6.2" fill="#222" textLength="11.82" lengthAdjust="spacingAndGlyphs">nabs</text>
<rect x="302.7" y="252.34" width="3.3" height="6.8" fill="#e8414c"/>
<text x="288.49" y="257.74" font-size="6.2" fill="#222" textLength="11.51" lengthAdjust="spacingAndGlyphs">cbas</text>
<rect x="302.7" y="260.15" width="3.2" height="6.8" fill="#e8414c"/>
<text x="288.49" y="265.55" font-size="6.2" fill="#222" textLength="11.51" lengthAdjust="spacingAndGlyphs">anzs</text>
<rect x="302.7" y="267.96" width="35.1" height="6.8" fill="#8fc5e3"/>
<rect x="302.7" y="267.96" width="3.1" height="6.8" fill="#e8414c"/>
<text x="291.21" y="273.36" font-size="6.2" fill="#222" textLength="8.79" lengthAdjust="spacingAndGlyphs">ceo</text>
<rect x="302.7" y="275.77" width="13.6" height="6.8" fill="#8fc5e3"/>
<rect x="302.7" y="275.77" width="3.0" height="6.8" fill="#e8414c"/>
<text x="272.74" y="281.17" font-size="6.2" fill="#222" textLength="27.26" lengthAdjust="spacingAndGlyphs">institutional</text>
<rect x="302.7" y="283.58" width="9.2" height="6.8" fill="#8fc5e3"/>
<rect x="302.7" y="283.58" width="2.8" height="6.8" fill="#e8414c"/>
<text x="278.19" y="288.98" font-size="6.2" fill="#222" textLength="21.81" lengthAdjust="spacingAndGlyphs">provision</text>
<rect x="302.7" y="291.39" width="2.5" height="6.8" fill="#e8414c"/>
<text x="283.04" y="296.79" font-size="6.2" fill="#222" textLength="16.96" lengthAdjust="spacingAndGlyphs">hartzer</text>
<rect x="303.1" y="307.5" width="45.1" height="7.1" fill="#8fc5e3"/>
<rect x="303.1" y="316.9" width="22.2" height="6.9" fill="#e8414c"/>
<text x="351.2" y="313" font-size="5.65" fill="#222" textLength="55.3" lengthAdjust="spacingAndGlyphs">Overall term frequency</text>
<text x="327.6" y="322.4" font-size="5.65" fill="#222" textLength="123.7" lengthAdjust="spacingAndGlyphs">Estimated term frequency within the selected topic</text>
</svg></body></html>
